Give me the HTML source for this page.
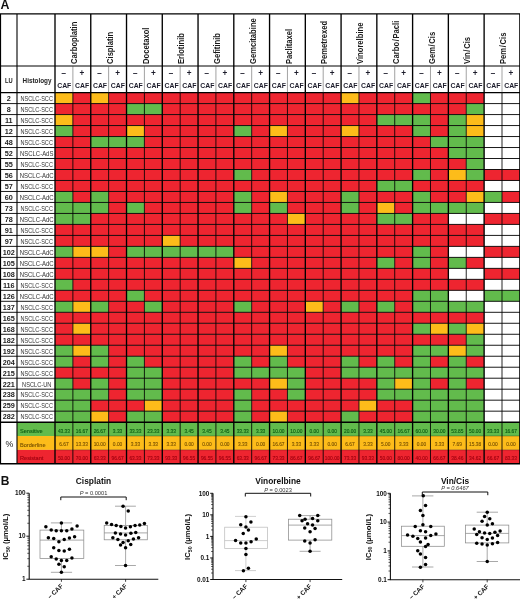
<!DOCTYPE html>
<html lang="en"><head><meta charset="utf-8"><title>Figure</title>
<style>html,body{margin:0;padding:0;background:#fff}body{width:520px;height:599px;overflow:hidden}svg{display:block}</style>
</head><body>
<svg width="520" height="599" viewBox="0 0 520 599" font-family="'Liberation Sans', sans-serif">
<rect width="520" height="599" fill="#fff"/>
<g shape-rendering="auto">
<rect x="55" y="92.6" width="17.88" height="10.98" fill="#fdbc1a"/>
<rect x="72.88" y="92.6" width="17.88" height="10.98" fill="#ee2530"/>
<rect x="90.76" y="92.6" width="17.88" height="10.98" fill="#fdbc1a"/>
<rect x="108.64" y="92.6" width="232.44" height="10.98" fill="#ee2530"/>
<rect x="341.08" y="92.6" width="17.88" height="10.98" fill="#fdbc1a"/>
<rect x="358.96" y="92.6" width="53.64" height="10.98" fill="#ee2530"/>
<rect x="412.6" y="92.6" width="17.88" height="10.98" fill="#62bb4c"/>
<rect x="430.48" y="92.6" width="53.64" height="10.98" fill="#ee2530"/>
<rect x="55" y="103.58" width="71.52" height="10.98" fill="#ee2530"/>
<rect x="126.52" y="103.58" width="35.76" height="10.98" fill="#62bb4c"/>
<rect x="162.28" y="103.58" width="303.96" height="10.98" fill="#ee2530"/>
<rect x="466.24" y="103.58" width="17.88" height="10.98" fill="#62bb4c"/>
<rect x="55" y="114.57" width="17.88" height="10.98" fill="#fdbc1a"/>
<rect x="72.88" y="114.57" width="303.96" height="10.98" fill="#ee2530"/>
<rect x="376.84" y="114.57" width="53.64" height="10.98" fill="#62bb4c"/>
<rect x="430.48" y="114.57" width="17.88" height="10.98" fill="#ee2530"/>
<rect x="448.36" y="114.57" width="17.88" height="10.98" fill="#62bb4c"/>
<rect x="466.24" y="114.57" width="17.88" height="10.98" fill="#fdbc1a"/>
<rect x="55" y="125.55" width="17.88" height="10.98" fill="#62bb4c"/>
<rect x="72.88" y="125.55" width="53.64" height="10.98" fill="#ee2530"/>
<rect x="126.52" y="125.55" width="17.88" height="10.98" fill="#fdbc1a"/>
<rect x="144.4" y="125.55" width="89.4" height="10.98" fill="#ee2530"/>
<rect x="233.8" y="125.55" width="17.88" height="10.98" fill="#62bb4c"/>
<rect x="251.68" y="125.55" width="17.88" height="10.98" fill="#ee2530"/>
<rect x="269.56" y="125.55" width="17.88" height="10.98" fill="#fdbc1a"/>
<rect x="287.44" y="125.55" width="53.64" height="10.98" fill="#ee2530"/>
<rect x="341.08" y="125.55" width="17.88" height="10.98" fill="#fdbc1a"/>
<rect x="358.96" y="125.55" width="53.64" height="10.98" fill="#ee2530"/>
<rect x="412.6" y="125.55" width="17.88" height="10.98" fill="#62bb4c"/>
<rect x="430.48" y="125.55" width="17.88" height="10.98" fill="#ee2530"/>
<rect x="448.36" y="125.55" width="17.88" height="10.98" fill="#62bb4c"/>
<rect x="466.24" y="125.55" width="17.88" height="10.98" fill="#fdbc1a"/>
<rect x="55" y="136.54" width="35.76" height="10.98" fill="#ee2530"/>
<rect x="90.76" y="136.54" width="53.64" height="10.98" fill="#62bb4c"/>
<rect x="144.4" y="136.54" width="286.08" height="10.98" fill="#ee2530"/>
<rect x="430.48" y="136.54" width="53.64" height="10.98" fill="#62bb4c"/>
<rect x="55" y="147.52" width="393.36" height="10.98" fill="#ee2530"/>
<rect x="448.36" y="147.52" width="35.76" height="10.98" fill="#62bb4c"/>
<rect x="55" y="158.51" width="411.24" height="10.98" fill="#ee2530"/>
<rect x="466.24" y="158.51" width="17.88" height="10.98" fill="#62bb4c"/>
<rect x="55" y="169.5" width="178.8" height="10.98" fill="#ee2530"/>
<rect x="233.8" y="169.5" width="17.88" height="10.98" fill="#62bb4c"/>
<rect x="251.68" y="169.5" width="160.92" height="10.98" fill="#ee2530"/>
<rect x="412.6" y="169.5" width="17.88" height="10.98" fill="#62bb4c"/>
<rect x="430.48" y="169.5" width="17.88" height="10.98" fill="#ee2530"/>
<rect x="448.36" y="169.5" width="17.88" height="10.98" fill="#fdbc1a"/>
<rect x="466.24" y="169.5" width="17.88" height="10.98" fill="#62bb4c"/>
<rect x="484.12" y="169.5" width="35.76" height="10.98" fill="#ee2530"/>
<rect x="55" y="180.48" width="321.84" height="10.98" fill="#ee2530"/>
<rect x="376.84" y="180.48" width="35.76" height="10.98" fill="#62bb4c"/>
<rect x="412.6" y="180.48" width="71.52" height="10.98" fill="#ee2530"/>
<rect x="55" y="191.46" width="17.88" height="10.98" fill="#62bb4c"/>
<rect x="72.88" y="191.46" width="17.88" height="10.98" fill="#ee2530"/>
<rect x="90.76" y="191.46" width="17.88" height="10.98" fill="#62bb4c"/>
<rect x="108.64" y="191.46" width="125.16" height="10.98" fill="#ee2530"/>
<rect x="233.8" y="191.46" width="17.88" height="10.98" fill="#62bb4c"/>
<rect x="251.68" y="191.46" width="17.88" height="10.98" fill="#ee2530"/>
<rect x="269.56" y="191.46" width="17.88" height="10.98" fill="#fdbc1a"/>
<rect x="287.44" y="191.46" width="53.64" height="10.98" fill="#ee2530"/>
<rect x="341.08" y="191.46" width="17.88" height="10.98" fill="#62bb4c"/>
<rect x="358.96" y="191.46" width="53.64" height="10.98" fill="#ee2530"/>
<rect x="412.6" y="191.46" width="17.88" height="10.98" fill="#62bb4c"/>
<rect x="430.48" y="191.46" width="35.76" height="10.98" fill="#ee2530"/>
<rect x="466.24" y="191.46" width="17.88" height="10.98" fill="#fdbc1a"/>
<rect x="484.12" y="191.46" width="17.88" height="10.98" fill="#62bb4c"/>
<rect x="502" y="191.46" width="17.88" height="10.98" fill="#ee2530"/>
<rect x="55" y="202.45" width="53.64" height="10.98" fill="#62bb4c"/>
<rect x="108.64" y="202.45" width="17.88" height="10.98" fill="#ee2530"/>
<rect x="126.52" y="202.45" width="17.88" height="10.98" fill="#62bb4c"/>
<rect x="144.4" y="202.45" width="89.4" height="10.98" fill="#ee2530"/>
<rect x="233.8" y="202.45" width="17.88" height="10.98" fill="#62bb4c"/>
<rect x="251.68" y="202.45" width="17.88" height="10.98" fill="#ee2530"/>
<rect x="269.56" y="202.45" width="17.88" height="10.98" fill="#62bb4c"/>
<rect x="287.44" y="202.45" width="53.64" height="10.98" fill="#ee2530"/>
<rect x="341.08" y="202.45" width="17.88" height="10.98" fill="#62bb4c"/>
<rect x="358.96" y="202.45" width="17.88" height="10.98" fill="#ee2530"/>
<rect x="376.84" y="202.45" width="17.88" height="10.98" fill="#fdbc1a"/>
<rect x="394.72" y="202.45" width="17.88" height="10.98" fill="#ee2530"/>
<rect x="412.6" y="202.45" width="71.52" height="10.98" fill="#62bb4c"/>
<rect x="55" y="213.44" width="35.76" height="10.98" fill="#62bb4c"/>
<rect x="90.76" y="213.44" width="196.68" height="10.98" fill="#ee2530"/>
<rect x="287.44" y="213.44" width="17.88" height="10.98" fill="#fdbc1a"/>
<rect x="305.32" y="213.44" width="71.52" height="10.98" fill="#ee2530"/>
<rect x="376.84" y="213.44" width="35.76" height="10.98" fill="#62bb4c"/>
<rect x="412.6" y="213.44" width="35.76" height="10.98" fill="#ee2530"/>
<rect x="484.12" y="213.44" width="35.76" height="10.98" fill="#ee2530"/>
<rect x="55" y="224.42" width="429.12" height="10.98" fill="#ee2530"/>
<rect x="55" y="235.41" width="107.28" height="10.98" fill="#ee2530"/>
<rect x="162.28" y="235.41" width="17.88" height="10.98" fill="#fdbc1a"/>
<rect x="180.16" y="235.41" width="303.96" height="10.98" fill="#ee2530"/>
<rect x="55" y="246.39" width="17.88" height="10.98" fill="#62bb4c"/>
<rect x="72.88" y="246.39" width="35.76" height="10.98" fill="#fdbc1a"/>
<rect x="108.64" y="246.39" width="17.88" height="10.98" fill="#ee2530"/>
<rect x="126.52" y="246.39" width="107.28" height="10.98" fill="#62bb4c"/>
<rect x="233.8" y="246.39" width="178.8" height="10.98" fill="#ee2530"/>
<rect x="412.6" y="246.39" width="17.88" height="10.98" fill="#62bb4c"/>
<rect x="430.48" y="246.39" width="17.88" height="10.98" fill="#ee2530"/>
<rect x="484.12" y="246.39" width="35.76" height="10.98" fill="#ee2530"/>
<rect x="55" y="257.38" width="178.8" height="10.98" fill="#ee2530"/>
<rect x="233.8" y="257.38" width="17.88" height="10.98" fill="#fdbc1a"/>
<rect x="251.68" y="257.38" width="125.16" height="10.98" fill="#ee2530"/>
<rect x="376.84" y="257.38" width="17.88" height="10.98" fill="#62bb4c"/>
<rect x="394.72" y="257.38" width="17.88" height="10.98" fill="#ee2530"/>
<rect x="412.6" y="257.38" width="17.88" height="10.98" fill="#62bb4c"/>
<rect x="430.48" y="257.38" width="17.88" height="10.98" fill="#ee2530"/>
<rect x="448.36" y="257.38" width="17.88" height="10.98" fill="#62bb4c"/>
<rect x="466.24" y="257.38" width="17.88" height="10.98" fill="#ee2530"/>
<rect x="55" y="268.36" width="393.36" height="10.98" fill="#ee2530"/>
<rect x="484.12" y="268.36" width="35.76" height="10.98" fill="#ee2530"/>
<rect x="55" y="279.35" width="17.88" height="10.98" fill="#62bb4c"/>
<rect x="72.88" y="279.35" width="411.24" height="10.98" fill="#ee2530"/>
<rect x="55" y="290.33" width="71.52" height="10.98" fill="#ee2530"/>
<rect x="126.52" y="290.33" width="17.88" height="10.98" fill="#62bb4c"/>
<rect x="144.4" y="290.33" width="268.2" height="10.98" fill="#ee2530"/>
<rect x="412.6" y="290.33" width="35.76" height="10.98" fill="#62bb4c"/>
<rect x="484.12" y="290.33" width="35.76" height="10.98" fill="#62bb4c"/>
<rect x="55" y="301.31" width="17.88" height="10.98" fill="#62bb4c"/>
<rect x="72.88" y="301.31" width="17.88" height="10.98" fill="#fdbc1a"/>
<rect x="90.76" y="301.31" width="17.88" height="10.98" fill="#62bb4c"/>
<rect x="108.64" y="301.31" width="35.76" height="10.98" fill="#ee2530"/>
<rect x="144.4" y="301.31" width="17.88" height="10.98" fill="#62bb4c"/>
<rect x="162.28" y="301.31" width="71.52" height="10.98" fill="#ee2530"/>
<rect x="233.8" y="301.31" width="17.88" height="10.98" fill="#62bb4c"/>
<rect x="251.68" y="301.31" width="53.64" height="10.98" fill="#ee2530"/>
<rect x="305.32" y="301.31" width="17.88" height="10.98" fill="#fdbc1a"/>
<rect x="323.2" y="301.31" width="17.88" height="10.98" fill="#ee2530"/>
<rect x="341.08" y="301.31" width="17.88" height="10.98" fill="#62bb4c"/>
<rect x="358.96" y="301.31" width="17.88" height="10.98" fill="#ee2530"/>
<rect x="376.84" y="301.31" width="17.88" height="10.98" fill="#62bb4c"/>
<rect x="394.72" y="301.31" width="17.88" height="10.98" fill="#ee2530"/>
<rect x="412.6" y="301.31" width="71.52" height="10.98" fill="#62bb4c"/>
<rect x="55" y="312.3" width="429.12" height="10.98" fill="#ee2530"/>
<rect x="55" y="323.28" width="17.88" height="10.98" fill="#ee2530"/>
<rect x="72.88" y="323.28" width="17.88" height="10.98" fill="#fdbc1a"/>
<rect x="90.76" y="323.28" width="321.84" height="10.98" fill="#ee2530"/>
<rect x="412.6" y="323.28" width="17.88" height="10.98" fill="#62bb4c"/>
<rect x="430.48" y="323.28" width="17.88" height="10.98" fill="#fdbc1a"/>
<rect x="448.36" y="323.28" width="17.88" height="10.98" fill="#62bb4c"/>
<rect x="466.24" y="323.28" width="17.88" height="10.98" fill="#fdbc1a"/>
<rect x="55" y="334.27" width="411.24" height="10.98" fill="#ee2530"/>
<rect x="466.24" y="334.27" width="17.88" height="10.98" fill="#62bb4c"/>
<rect x="55" y="345.25" width="17.88" height="10.98" fill="#62bb4c"/>
<rect x="72.88" y="345.25" width="17.88" height="10.98" fill="#fdbc1a"/>
<rect x="90.76" y="345.25" width="17.88" height="10.98" fill="#62bb4c"/>
<rect x="108.64" y="345.25" width="160.92" height="10.98" fill="#ee2530"/>
<rect x="269.56" y="345.25" width="17.88" height="10.98" fill="#fdbc1a"/>
<rect x="287.44" y="345.25" width="125.16" height="10.98" fill="#ee2530"/>
<rect x="412.6" y="345.25" width="35.76" height="10.98" fill="#62bb4c"/>
<rect x="448.36" y="345.25" width="17.88" height="10.98" fill="#fdbc1a"/>
<rect x="466.24" y="345.25" width="17.88" height="10.98" fill="#62bb4c"/>
<rect x="55" y="356.24" width="17.88" height="10.98" fill="#62bb4c"/>
<rect x="72.88" y="356.24" width="17.88" height="10.98" fill="#ee2530"/>
<rect x="90.76" y="356.24" width="17.88" height="10.98" fill="#62bb4c"/>
<rect x="108.64" y="356.24" width="17.88" height="10.98" fill="#ee2530"/>
<rect x="126.52" y="356.24" width="17.88" height="10.98" fill="#62bb4c"/>
<rect x="144.4" y="356.24" width="89.4" height="10.98" fill="#ee2530"/>
<rect x="233.8" y="356.24" width="17.88" height="10.98" fill="#62bb4c"/>
<rect x="251.68" y="356.24" width="17.88" height="10.98" fill="#ee2530"/>
<rect x="269.56" y="356.24" width="17.88" height="10.98" fill="#62bb4c"/>
<rect x="287.44" y="356.24" width="53.64" height="10.98" fill="#ee2530"/>
<rect x="341.08" y="356.24" width="17.88" height="10.98" fill="#62bb4c"/>
<rect x="358.96" y="356.24" width="17.88" height="10.98" fill="#ee2530"/>
<rect x="376.84" y="356.24" width="17.88" height="10.98" fill="#62bb4c"/>
<rect x="394.72" y="356.24" width="17.88" height="10.98" fill="#ee2530"/>
<rect x="412.6" y="356.24" width="17.88" height="10.98" fill="#62bb4c"/>
<rect x="430.48" y="356.24" width="17.88" height="10.98" fill="#ee2530"/>
<rect x="448.36" y="356.24" width="17.88" height="10.98" fill="#62bb4c"/>
<rect x="466.24" y="356.24" width="17.88" height="10.98" fill="#ee2530"/>
<rect x="55" y="367.23" width="71.52" height="10.98" fill="#ee2530"/>
<rect x="126.52" y="367.23" width="35.76" height="10.98" fill="#62bb4c"/>
<rect x="162.28" y="367.23" width="71.52" height="10.98" fill="#ee2530"/>
<rect x="233.8" y="367.23" width="71.52" height="10.98" fill="#62bb4c"/>
<rect x="305.32" y="367.23" width="35.76" height="10.98" fill="#ee2530"/>
<rect x="341.08" y="367.23" width="143.04" height="10.98" fill="#62bb4c"/>
<rect x="55" y="378.21" width="17.88" height="10.98" fill="#62bb4c"/>
<rect x="72.88" y="378.21" width="17.88" height="10.98" fill="#ee2530"/>
<rect x="90.76" y="378.21" width="17.88" height="10.98" fill="#62bb4c"/>
<rect x="108.64" y="378.21" width="17.88" height="10.98" fill="#ee2530"/>
<rect x="126.52" y="378.21" width="35.76" height="10.98" fill="#62bb4c"/>
<rect x="162.28" y="378.21" width="107.28" height="10.98" fill="#ee2530"/>
<rect x="269.56" y="378.21" width="17.88" height="10.98" fill="#fdbc1a"/>
<rect x="287.44" y="378.21" width="17.88" height="10.98" fill="#62bb4c"/>
<rect x="305.32" y="378.21" width="71.52" height="10.98" fill="#ee2530"/>
<rect x="376.84" y="378.21" width="17.88" height="10.98" fill="#62bb4c"/>
<rect x="394.72" y="378.21" width="17.88" height="10.98" fill="#fdbc1a"/>
<rect x="412.6" y="378.21" width="17.88" height="10.98" fill="#62bb4c"/>
<rect x="430.48" y="378.21" width="17.88" height="10.98" fill="#ee2530"/>
<rect x="448.36" y="378.21" width="17.88" height="10.98" fill="#62bb4c"/>
<rect x="466.24" y="378.21" width="17.88" height="10.98" fill="#ee2530"/>
<rect x="55" y="389.19" width="53.64" height="10.98" fill="#62bb4c"/>
<rect x="108.64" y="389.19" width="17.88" height="10.98" fill="#ee2530"/>
<rect x="126.52" y="389.19" width="35.76" height="10.98" fill="#62bb4c"/>
<rect x="162.28" y="389.19" width="71.52" height="10.98" fill="#ee2530"/>
<rect x="233.8" y="389.19" width="17.88" height="10.98" fill="#62bb4c"/>
<rect x="251.68" y="389.19" width="35.76" height="10.98" fill="#ee2530"/>
<rect x="287.44" y="389.19" width="17.88" height="10.98" fill="#62bb4c"/>
<rect x="305.32" y="389.19" width="71.52" height="10.98" fill="#ee2530"/>
<rect x="376.84" y="389.19" width="107.28" height="10.98" fill="#62bb4c"/>
<rect x="55" y="400.18" width="35.76" height="10.98" fill="#62bb4c"/>
<rect x="90.76" y="400.18" width="53.64" height="10.98" fill="#ee2530"/>
<rect x="144.4" y="400.18" width="17.88" height="10.98" fill="#fdbc1a"/>
<rect x="162.28" y="400.18" width="71.52" height="10.98" fill="#ee2530"/>
<rect x="233.8" y="400.18" width="17.88" height="10.98" fill="#62bb4c"/>
<rect x="251.68" y="400.18" width="107.28" height="10.98" fill="#ee2530"/>
<rect x="358.96" y="400.18" width="17.88" height="10.98" fill="#fdbc1a"/>
<rect x="376.84" y="400.18" width="35.76" height="10.98" fill="#ee2530"/>
<rect x="412.6" y="400.18" width="71.52" height="10.98" fill="#62bb4c"/>
<rect x="55" y="411.16" width="35.76" height="10.98" fill="#62bb4c"/>
<rect x="90.76" y="411.16" width="17.88" height="10.98" fill="#fdbc1a"/>
<rect x="108.64" y="411.16" width="17.88" height="10.98" fill="#ee2530"/>
<rect x="126.52" y="411.16" width="35.76" height="10.98" fill="#62bb4c"/>
<rect x="162.28" y="411.16" width="71.52" height="10.98" fill="#ee2530"/>
<rect x="233.8" y="411.16" width="17.88" height="10.98" fill="#62bb4c"/>
<rect x="251.68" y="411.16" width="17.88" height="10.98" fill="#ee2530"/>
<rect x="269.56" y="411.16" width="17.88" height="10.98" fill="#fdbc1a"/>
<rect x="287.44" y="411.16" width="53.64" height="10.98" fill="#ee2530"/>
<rect x="341.08" y="411.16" width="17.88" height="10.98" fill="#62bb4c"/>
<rect x="358.96" y="411.16" width="53.64" height="10.98" fill="#ee2530"/>
<rect x="412.6" y="411.16" width="71.52" height="10.98" fill="#62bb4c"/>
<rect x="17" y="422.15" width="502.88" height="13.87" fill="#62bb4c"/>
<rect x="17" y="436.02" width="502.88" height="13.87" fill="#fdbc1a"/>
<rect x="17" y="449.89" width="502.88" height="13.87" fill="#ee2530"/>
</g>
<g><line x1="0" y1="92.6" x2="520" y2="92.6" stroke="#000" stroke-width="1.1"/><line x1="0" y1="103.58" x2="520" y2="103.58" stroke="#000" stroke-width="0.9"/><line x1="0" y1="114.57" x2="520" y2="114.57" stroke="#000" stroke-width="0.9"/><line x1="0" y1="125.55" x2="520" y2="125.55" stroke="#000" stroke-width="0.9"/><line x1="0" y1="136.54" x2="520" y2="136.54" stroke="#000" stroke-width="0.9"/><line x1="0" y1="147.52" x2="520" y2="147.52" stroke="#000" stroke-width="0.9"/><line x1="0" y1="158.51" x2="520" y2="158.51" stroke="#000" stroke-width="0.9"/><line x1="0" y1="169.5" x2="520" y2="169.5" stroke="#000" stroke-width="0.9"/><line x1="0" y1="180.48" x2="520" y2="180.48" stroke="#000" stroke-width="0.9"/><line x1="0" y1="191.46" x2="520" y2="191.46" stroke="#000" stroke-width="0.9"/><line x1="0" y1="202.45" x2="520" y2="202.45" stroke="#000" stroke-width="0.9"/><line x1="0" y1="213.44" x2="520" y2="213.44" stroke="#000" stroke-width="0.9"/><line x1="0" y1="224.42" x2="520" y2="224.42" stroke="#000" stroke-width="0.9"/><line x1="0" y1="235.41" x2="520" y2="235.41" stroke="#000" stroke-width="0.9"/><line x1="0" y1="246.39" x2="520" y2="246.39" stroke="#000" stroke-width="0.9"/><line x1="0" y1="257.38" x2="520" y2="257.38" stroke="#000" stroke-width="0.9"/><line x1="0" y1="268.36" x2="520" y2="268.36" stroke="#000" stroke-width="0.9"/><line x1="0" y1="279.35" x2="520" y2="279.35" stroke="#000" stroke-width="0.9"/><line x1="0" y1="290.33" x2="520" y2="290.33" stroke="#000" stroke-width="0.9"/><line x1="0" y1="301.31" x2="520" y2="301.31" stroke="#000" stroke-width="0.9"/><line x1="0" y1="312.3" x2="520" y2="312.3" stroke="#000" stroke-width="0.9"/><line x1="0" y1="323.28" x2="520" y2="323.28" stroke="#000" stroke-width="0.9"/><line x1="0" y1="334.27" x2="520" y2="334.27" stroke="#000" stroke-width="0.9"/><line x1="0" y1="345.25" x2="520" y2="345.25" stroke="#000" stroke-width="0.9"/><line x1="0" y1="356.24" x2="520" y2="356.24" stroke="#000" stroke-width="0.9"/><line x1="0" y1="367.23" x2="520" y2="367.23" stroke="#000" stroke-width="0.9"/><line x1="0" y1="378.21" x2="520" y2="378.21" stroke="#000" stroke-width="0.9"/><line x1="0" y1="389.19" x2="520" y2="389.19" stroke="#000" stroke-width="0.9"/><line x1="0" y1="400.18" x2="520" y2="400.18" stroke="#000" stroke-width="0.9"/><line x1="0" y1="411.16" x2="520" y2="411.16" stroke="#000" stroke-width="0.9"/><line x1="0" y1="422.15" x2="520" y2="422.15" stroke="#000" stroke-width="1.5"/><line x1="0" y1="13.9" x2="520" y2="13.9" stroke="#000" stroke-width="1.2"/><line x1="0" y1="66" x2="520" y2="66" stroke="#000" stroke-width="1"/><line x1="0" y1="463.76" x2="520" y2="463.76" stroke="#000" stroke-width="1.4"/><line x1="55" y1="436.02" x2="520" y2="436.02" stroke="#000" stroke-width="0.5" stroke-opacity="0.55"/><line x1="55" y1="449.89" x2="520" y2="449.89" stroke="#000" stroke-width="0.5" stroke-opacity="0.55"/><line x1="0.5" y1="13.9" x2="0.5" y2="463.76" stroke="#000" stroke-width="1.2"/><line x1="17" y1="13.9" x2="17" y2="463.76" stroke="#000" stroke-width="1.1"/><line x1="55" y1="13.9" x2="55" y2="463.76" stroke="#000" stroke-width="1.35"/><line x1="72.88" y1="66" x2="72.88" y2="92.6" stroke="#444" stroke-width="0.5"/><line x1="72.88" y1="92.6" x2="72.88" y2="463.76" stroke="#000" stroke-width="0.85"/><line x1="90.76" y1="13.9" x2="90.76" y2="463.76" stroke="#000" stroke-width="1.35"/><line x1="108.64" y1="66" x2="108.64" y2="92.6" stroke="#444" stroke-width="0.5"/><line x1="108.64" y1="92.6" x2="108.64" y2="463.76" stroke="#000" stroke-width="0.85"/><line x1="126.52" y1="13.9" x2="126.52" y2="463.76" stroke="#000" stroke-width="1.35"/><line x1="144.4" y1="66" x2="144.4" y2="92.6" stroke="#444" stroke-width="0.5"/><line x1="144.4" y1="92.6" x2="144.4" y2="463.76" stroke="#000" stroke-width="0.85"/><line x1="162.28" y1="13.9" x2="162.28" y2="463.76" stroke="#000" stroke-width="1.35"/><line x1="180.16" y1="66" x2="180.16" y2="92.6" stroke="#444" stroke-width="0.5"/><line x1="180.16" y1="92.6" x2="180.16" y2="463.76" stroke="#000" stroke-width="0.85"/><line x1="198.04" y1="13.9" x2="198.04" y2="463.76" stroke="#000" stroke-width="1.35"/><line x1="215.92" y1="66" x2="215.92" y2="92.6" stroke="#444" stroke-width="0.5"/><line x1="215.92" y1="92.6" x2="215.92" y2="463.76" stroke="#000" stroke-width="0.85"/><line x1="233.8" y1="13.9" x2="233.8" y2="463.76" stroke="#000" stroke-width="1.35"/><line x1="251.68" y1="66" x2="251.68" y2="92.6" stroke="#444" stroke-width="0.5"/><line x1="251.68" y1="92.6" x2="251.68" y2="463.76" stroke="#000" stroke-width="0.85"/><line x1="269.56" y1="13.9" x2="269.56" y2="463.76" stroke="#000" stroke-width="1.35"/><line x1="287.44" y1="66" x2="287.44" y2="92.6" stroke="#444" stroke-width="0.5"/><line x1="287.44" y1="92.6" x2="287.44" y2="463.76" stroke="#000" stroke-width="0.85"/><line x1="305.32" y1="13.9" x2="305.32" y2="463.76" stroke="#000" stroke-width="1.35"/><line x1="323.2" y1="66" x2="323.2" y2="92.6" stroke="#444" stroke-width="0.5"/><line x1="323.2" y1="92.6" x2="323.2" y2="463.76" stroke="#000" stroke-width="0.85"/><line x1="341.08" y1="13.9" x2="341.08" y2="463.76" stroke="#000" stroke-width="1.35"/><line x1="358.96" y1="66" x2="358.96" y2="92.6" stroke="#444" stroke-width="0.5"/><line x1="358.96" y1="92.6" x2="358.96" y2="463.76" stroke="#000" stroke-width="0.85"/><line x1="376.84" y1="13.9" x2="376.84" y2="463.76" stroke="#000" stroke-width="1.35"/><line x1="394.72" y1="66" x2="394.72" y2="92.6" stroke="#444" stroke-width="0.5"/><line x1="394.72" y1="92.6" x2="394.72" y2="463.76" stroke="#000" stroke-width="0.85"/><line x1="412.6" y1="13.9" x2="412.6" y2="463.76" stroke="#000" stroke-width="1.35"/><line x1="430.48" y1="66" x2="430.48" y2="92.6" stroke="#444" stroke-width="0.5"/><line x1="430.48" y1="92.6" x2="430.48" y2="463.76" stroke="#000" stroke-width="0.85"/><line x1="448.36" y1="13.9" x2="448.36" y2="463.76" stroke="#000" stroke-width="1.35"/><line x1="466.24" y1="66" x2="466.24" y2="92.6" stroke="#444" stroke-width="0.5"/><line x1="466.24" y1="92.6" x2="466.24" y2="463.76" stroke="#000" stroke-width="0.85"/><line x1="484.12" y1="13.9" x2="484.12" y2="463.76" stroke="#000" stroke-width="1.35"/><line x1="502" y1="66" x2="502" y2="92.6" stroke="#444" stroke-width="0.5"/><line x1="502" y1="92.6" x2="502" y2="463.76" stroke="#000" stroke-width="0.85"/><line x1="519.88" y1="13.9" x2="519.88" y2="463.76" stroke="#000" stroke-width="1.35"/></g>
<text x="0.6" y="8.9" font-size="12.4" font-weight="bold" fill="#111">A</text>
<g font-size="8.3" font-weight="bold" fill="#1a1a1a">
<text transform="translate(76.98,64) rotate(-90) scale(0.92,1)">Carboplatin</text>
<text transform="translate(112.74,64) rotate(-90) scale(0.92,1)">Cisplatin</text>
<text transform="translate(148.5,64) rotate(-90) scale(0.92,1)">Docetaxol</text>
<text transform="translate(184.26,64) rotate(-90) scale(0.92,1)">Erlotinib</text>
<text transform="translate(220.02,64) rotate(-90) scale(0.92,1)">Gefitinib</text>
<text transform="translate(255.78,64) rotate(-90) scale(0.92,1)">Gemcitabine</text>
<text transform="translate(291.54,64) rotate(-90) scale(0.92,1)">Paclitaxel</text>
<text transform="translate(327.3,64) rotate(-90) scale(0.92,1)">Pemetrexed</text>
<text transform="translate(363.06,64) rotate(-90) scale(0.92,1)">Vinorelbine</text>
<text transform="translate(398.82,64) rotate(-90) scale(0.92,1)">Carbo / Pacli</text>
<text transform="translate(434.58,64) rotate(-90) scale(0.92,1)">Gem / Cis</text>
<text transform="translate(470.34,64) rotate(-90) scale(0.92,1)">Vin / Cis</text>
<text transform="translate(506.1,64) rotate(-90) scale(0.92,1)">Pem / Cis</text>
</g>
<g font-size="7.5" fill="#1b1b2a" text-anchor="middle">
<text x="63.94" y="76" font-size="8.2" font-weight="bold">−</text>
<text transform="translate(64.24,87.8) scale(0.92,1)" font-weight="bold">CAF</text>
<text x="81.82" y="76" font-size="8.2" font-weight="bold">+</text>
<text transform="translate(82.12,87.8) scale(0.92,1)" font-weight="bold">CAF</text>
<text x="99.7" y="76" font-size="8.2" font-weight="bold">−</text>
<text transform="translate(100,87.8) scale(0.92,1)" font-weight="bold">CAF</text>
<text x="117.58" y="76" font-size="8.2" font-weight="bold">+</text>
<text transform="translate(117.88,87.8) scale(0.92,1)" font-weight="bold">CAF</text>
<text x="135.46" y="76" font-size="8.2" font-weight="bold">−</text>
<text transform="translate(135.76,87.8) scale(0.92,1)" font-weight="bold">CAF</text>
<text x="153.34" y="76" font-size="8.2" font-weight="bold">+</text>
<text transform="translate(153.64,87.8) scale(0.92,1)" font-weight="bold">CAF</text>
<text x="171.22" y="76" font-size="8.2" font-weight="bold">−</text>
<text transform="translate(171.52,87.8) scale(0.92,1)" font-weight="bold">CAF</text>
<text x="189.1" y="76" font-size="8.2" font-weight="bold">+</text>
<text transform="translate(189.4,87.8) scale(0.92,1)" font-weight="bold">CAF</text>
<text x="206.98" y="76" font-size="8.2" font-weight="bold">−</text>
<text transform="translate(207.28,87.8) scale(0.92,1)" font-weight="bold">CAF</text>
<text x="224.86" y="76" font-size="8.2" font-weight="bold">+</text>
<text transform="translate(225.16,87.8) scale(0.92,1)" font-weight="bold">CAF</text>
<text x="242.74" y="76" font-size="8.2" font-weight="bold">−</text>
<text transform="translate(243.04,87.8) scale(0.92,1)" font-weight="bold">CAF</text>
<text x="260.62" y="76" font-size="8.2" font-weight="bold">+</text>
<text transform="translate(260.92,87.8) scale(0.92,1)" font-weight="bold">CAF</text>
<text x="278.5" y="76" font-size="8.2" font-weight="bold">−</text>
<text transform="translate(278.8,87.8) scale(0.92,1)" font-weight="bold">CAF</text>
<text x="296.38" y="76" font-size="8.2" font-weight="bold">+</text>
<text transform="translate(296.68,87.8) scale(0.92,1)" font-weight="bold">CAF</text>
<text x="314.26" y="76" font-size="8.2" font-weight="bold">−</text>
<text transform="translate(314.56,87.8) scale(0.92,1)" font-weight="bold">CAF</text>
<text x="332.14" y="76" font-size="8.2" font-weight="bold">+</text>
<text transform="translate(332.44,87.8) scale(0.92,1)" font-weight="bold">CAF</text>
<text x="350.02" y="76" font-size="8.2" font-weight="bold">−</text>
<text transform="translate(350.32,87.8) scale(0.92,1)" font-weight="bold">CAF</text>
<text x="367.9" y="76" font-size="8.2" font-weight="bold">+</text>
<text transform="translate(368.2,87.8) scale(0.92,1)" font-weight="bold">CAF</text>
<text x="385.78" y="76" font-size="8.2" font-weight="bold">−</text>
<text transform="translate(386.08,87.8) scale(0.92,1)" font-weight="bold">CAF</text>
<text x="403.66" y="76" font-size="8.2" font-weight="bold">+</text>
<text transform="translate(403.96,87.8) scale(0.92,1)" font-weight="bold">CAF</text>
<text x="421.54" y="76" font-size="8.2" font-weight="bold">−</text>
<text transform="translate(421.84,87.8) scale(0.92,1)" font-weight="bold">CAF</text>
<text x="439.42" y="76" font-size="8.2" font-weight="bold">+</text>
<text transform="translate(439.72,87.8) scale(0.92,1)" font-weight="bold">CAF</text>
<text x="457.3" y="76" font-size="8.2" font-weight="bold">−</text>
<text transform="translate(457.6,87.8) scale(0.92,1)" font-weight="bold">CAF</text>
<text x="475.18" y="76" font-size="8.2" font-weight="bold">+</text>
<text transform="translate(475.48,87.8) scale(0.92,1)" font-weight="bold">CAF</text>
<text x="493.06" y="76" font-size="8.2" font-weight="bold">−</text>
<text transform="translate(493.36,87.8) scale(0.92,1)" font-weight="bold">CAF</text>
<text x="510.94" y="76" font-size="8.2" font-weight="bold">+</text>
<text transform="translate(511.24,87.8) scale(0.92,1)" font-weight="bold">CAF</text>
</g>
<g font-size="7.2" font-weight="bold" fill="#222" text-anchor="middle">
<text transform="translate(8.8,82.6) scale(0.8,1)">LU</text>
<text transform="translate(37,82.6) scale(0.88,1)">Histology</text>
</g>
<g font-size="7.3" fill="#333" text-anchor="middle">
<text transform="translate(8.8,100.9) scale(0.97,1)" font-size="7.5" font-weight="bold" fill="#222">2</text>
<text x="36.7" y="100.9" textLength="32.4" lengthAdjust="spacingAndGlyphs">NSCLC-SCC</text>
<text transform="translate(8.8,111.88) scale(0.97,1)" font-size="7.5" font-weight="bold" fill="#222">8</text>
<text x="36.7" y="111.88" textLength="32.4" lengthAdjust="spacingAndGlyphs">NSCLC-SCC</text>
<text transform="translate(8.8,122.87) scale(0.97,1)" font-size="7.5" font-weight="bold" fill="#222">11</text>
<text x="36.7" y="122.87" textLength="32.4" lengthAdjust="spacingAndGlyphs">NSCLC-SCC</text>
<text transform="translate(8.8,133.85) scale(0.97,1)" font-size="7.5" font-weight="bold" fill="#222">12</text>
<text x="36.7" y="133.85" textLength="32.4" lengthAdjust="spacingAndGlyphs">NSCLC-SCC</text>
<text transform="translate(8.8,144.84) scale(0.97,1)" font-size="7.5" font-weight="bold" fill="#222">48</text>
<text x="36.7" y="144.84" textLength="32.4" lengthAdjust="spacingAndGlyphs">NSCLC-SCC</text>
<text transform="translate(8.8,155.82) scale(0.97,1)" font-size="7.5" font-weight="bold" fill="#222">52</text>
<text x="36.7" y="155.82" textLength="33.3" lengthAdjust="spacingAndGlyphs">NSCLC-AdS</text>
<text transform="translate(8.8,166.81) scale(0.97,1)" font-size="7.5" font-weight="bold" fill="#222">55</text>
<text x="36.7" y="166.81" textLength="32.4" lengthAdjust="spacingAndGlyphs">NSCLC-SCC</text>
<text transform="translate(8.8,177.8) scale(0.97,1)" font-size="7.5" font-weight="bold" fill="#222">56</text>
<text x="36.7" y="177.8" textLength="34.0" lengthAdjust="spacingAndGlyphs">NSCLC-AdC</text>
<text transform="translate(8.8,188.78) scale(0.97,1)" font-size="7.5" font-weight="bold" fill="#222">57</text>
<text x="36.7" y="188.78" textLength="32.4" lengthAdjust="spacingAndGlyphs">NSCLC-SCC</text>
<text transform="translate(8.8,199.76) scale(0.97,1)" font-size="7.5" font-weight="bold" fill="#222">60</text>
<text x="36.7" y="199.76" textLength="34.0" lengthAdjust="spacingAndGlyphs">NSCLC-AdC</text>
<text transform="translate(8.8,210.75) scale(0.97,1)" font-size="7.5" font-weight="bold" fill="#222">73</text>
<text x="36.7" y="210.75" textLength="32.4" lengthAdjust="spacingAndGlyphs">NSCLC-SCC</text>
<text transform="translate(8.8,221.74) scale(0.97,1)" font-size="7.5" font-weight="bold" fill="#222">78</text>
<text x="36.7" y="221.74" textLength="34.0" lengthAdjust="spacingAndGlyphs">NSCLC-AdC</text>
<text transform="translate(8.8,232.72) scale(0.97,1)" font-size="7.5" font-weight="bold" fill="#222">91</text>
<text x="36.7" y="232.72" textLength="32.4" lengthAdjust="spacingAndGlyphs">NSCLC-SCC</text>
<text transform="translate(8.8,243.71) scale(0.97,1)" font-size="7.5" font-weight="bold" fill="#222">97</text>
<text x="36.7" y="243.71" textLength="32.4" lengthAdjust="spacingAndGlyphs">NSCLC-SCC</text>
<text transform="translate(8.8,254.69) scale(0.97,1)" font-size="7.5" font-weight="bold" fill="#222">102</text>
<text x="36.7" y="254.69" textLength="34.0" lengthAdjust="spacingAndGlyphs">NSCLC-AdC</text>
<text transform="translate(8.8,265.68) scale(0.97,1)" font-size="7.5" font-weight="bold" fill="#222">105</text>
<text x="36.7" y="265.68" textLength="34.0" lengthAdjust="spacingAndGlyphs">NSCLC-AdC</text>
<text transform="translate(8.8,276.66) scale(0.97,1)" font-size="7.5" font-weight="bold" fill="#222">108</text>
<text x="36.7" y="276.66" textLength="34.0" lengthAdjust="spacingAndGlyphs">NSCLC-AdC</text>
<text transform="translate(8.8,287.65) scale(0.97,1)" font-size="7.5" font-weight="bold" fill="#222">116</text>
<text x="36.7" y="287.65" textLength="32.4" lengthAdjust="spacingAndGlyphs">NSCLC-SCC</text>
<text transform="translate(8.8,298.63) scale(0.97,1)" font-size="7.5" font-weight="bold" fill="#222">126</text>
<text x="36.7" y="298.63" textLength="34.0" lengthAdjust="spacingAndGlyphs">NSCLC-AdC</text>
<text transform="translate(8.8,309.61) scale(0.97,1)" font-size="7.5" font-weight="bold" fill="#222">137</text>
<text x="36.7" y="309.61" textLength="32.4" lengthAdjust="spacingAndGlyphs">NSCLC-SCC</text>
<text transform="translate(8.8,320.6) scale(0.97,1)" font-size="7.5" font-weight="bold" fill="#222">165</text>
<text x="36.7" y="320.6" textLength="32.4" lengthAdjust="spacingAndGlyphs">NSCLC-SCC</text>
<text transform="translate(8.8,331.58) scale(0.97,1)" font-size="7.5" font-weight="bold" fill="#222">168</text>
<text x="36.7" y="331.58" textLength="32.4" lengthAdjust="spacingAndGlyphs">NSCLC-SCC</text>
<text transform="translate(8.8,342.57) scale(0.97,1)" font-size="7.5" font-weight="bold" fill="#222">182</text>
<text x="36.7" y="342.57" textLength="32.4" lengthAdjust="spacingAndGlyphs">NSCLC-SCC</text>
<text transform="translate(8.8,353.56) scale(0.97,1)" font-size="7.5" font-weight="bold" fill="#222">192</text>
<text x="36.7" y="353.56" textLength="32.4" lengthAdjust="spacingAndGlyphs">NSCLC-SCC</text>
<text transform="translate(8.8,364.54) scale(0.97,1)" font-size="7.5" font-weight="bold" fill="#222">204</text>
<text x="36.7" y="364.54" textLength="32.4" lengthAdjust="spacingAndGlyphs">NSCLC-SCC</text>
<text transform="translate(8.8,375.53) scale(0.97,1)" font-size="7.5" font-weight="bold" fill="#222">215</text>
<text x="36.7" y="375.53" textLength="32.4" lengthAdjust="spacingAndGlyphs">NSCLC-SCC</text>
<text transform="translate(8.8,386.51) scale(0.97,1)" font-size="7.5" font-weight="bold" fill="#222">221</text>
<text x="36.7" y="386.51" textLength="29.2" lengthAdjust="spacingAndGlyphs">NSCLC-UN</text>
<text transform="translate(8.8,397.49) scale(0.97,1)" font-size="7.5" font-weight="bold" fill="#222">238</text>
<text x="36.7" y="397.49" textLength="32.4" lengthAdjust="spacingAndGlyphs">NSCLC-SCC</text>
<text transform="translate(8.8,408.48) scale(0.97,1)" font-size="7.5" font-weight="bold" fill="#222">259</text>
<text x="36.7" y="408.48" textLength="32.4" lengthAdjust="spacingAndGlyphs">NSCLC-SCC</text>
<text transform="translate(8.8,419.46) scale(0.97,1)" font-size="7.5" font-weight="bold" fill="#222">282</text>
<text x="36.7" y="419.46" textLength="32.4" lengthAdjust="spacingAndGlyphs">NSCLC-SCC</text>
</g>
<text x="9.3" y="447.06" font-size="8.8" fill="#222" text-anchor="middle">%</text>
<g fill="#0b5a12" stroke="#0b5a12" stroke-width="0.12" font-size="4.85">
<text x="20" y="432.75" font-size="5.6">Sensitive</text>
<text x="63.94" y="432.55" text-anchor="middle">43.33</text>
<text x="81.82" y="432.55" text-anchor="middle">16.67</text>
<text x="99.7" y="432.55" text-anchor="middle">26.67</text>
<text x="117.58" y="432.55" text-anchor="middle">3.33</text>
<text x="135.46" y="432.55" text-anchor="middle">33.33</text>
<text x="153.34" y="432.55" text-anchor="middle">23.33</text>
<text x="171.22" y="432.55" text-anchor="middle">3.33</text>
<text x="189.1" y="432.55" text-anchor="middle">3.45</text>
<text x="206.98" y="432.55" text-anchor="middle">3.45</text>
<text x="224.86" y="432.55" text-anchor="middle">3.45</text>
<text x="242.74" y="432.55" text-anchor="middle">33.33</text>
<text x="260.62" y="432.55" text-anchor="middle">3.33</text>
<text x="278.5" y="432.55" text-anchor="middle">10.00</text>
<text x="296.38" y="432.55" text-anchor="middle">10.00</text>
<text x="314.26" y="432.55" text-anchor="middle">0.00</text>
<text x="332.14" y="432.55" text-anchor="middle">0.00</text>
<text x="350.02" y="432.55" text-anchor="middle">20.00</text>
<text x="367.9" y="432.55" text-anchor="middle">3.33</text>
<text x="385.78" y="432.55" text-anchor="middle">45.00</text>
<text x="403.66" y="432.55" text-anchor="middle">16.67</text>
<text x="421.54" y="432.55" text-anchor="middle">60.00</text>
<text x="439.42" y="432.55" text-anchor="middle">30.00</text>
<text x="457.3" y="432.55" text-anchor="middle">53.85</text>
<text x="475.18" y="432.55" text-anchor="middle">50.00</text>
<text x="493.06" y="432.55" text-anchor="middle">33.33</text>
<text x="510.94" y="432.55" text-anchor="middle">16.67</text>
</g>
<g fill="#7a5200" stroke="#7a5200" stroke-width="0.12" font-size="4.85">
<text x="20" y="446.62" font-size="5.6">Borderline</text>
<text x="63.94" y="446.42" text-anchor="middle">6.67</text>
<text x="81.82" y="446.42" text-anchor="middle">13.33</text>
<text x="99.7" y="446.42" text-anchor="middle">10.00</text>
<text x="117.58" y="446.42" text-anchor="middle">0.00</text>
<text x="135.46" y="446.42" text-anchor="middle">3.33</text>
<text x="153.34" y="446.42" text-anchor="middle">3.33</text>
<text x="171.22" y="446.42" text-anchor="middle">3.33</text>
<text x="189.1" y="446.42" text-anchor="middle">0.00</text>
<text x="206.98" y="446.42" text-anchor="middle">0.00</text>
<text x="224.86" y="446.42" text-anchor="middle">0.00</text>
<text x="242.74" y="446.42" text-anchor="middle">3.33</text>
<text x="260.62" y="446.42" text-anchor="middle">0.00</text>
<text x="278.5" y="446.42" text-anchor="middle">16.67</text>
<text x="296.38" y="446.42" text-anchor="middle">3.33</text>
<text x="314.26" y="446.42" text-anchor="middle">3.33</text>
<text x="332.14" y="446.42" text-anchor="middle">0.00</text>
<text x="350.02" y="446.42" text-anchor="middle">6.67</text>
<text x="367.9" y="446.42" text-anchor="middle">3.33</text>
<text x="385.78" y="446.42" text-anchor="middle">5.00</text>
<text x="403.66" y="446.42" text-anchor="middle">3.33</text>
<text x="421.54" y="446.42" text-anchor="middle">0.00</text>
<text x="439.42" y="446.42" text-anchor="middle">3.33</text>
<text x="457.3" y="446.42" text-anchor="middle">7.69</text>
<text x="475.18" y="446.42" text-anchor="middle">15.38</text>
<text x="493.06" y="446.42" text-anchor="middle">0.00</text>
<text x="510.94" y="446.42" text-anchor="middle">0.00</text>
</g>
<g fill="#a00010" stroke="#a00010" stroke-width="0.12" font-size="4.85">
<text x="20" y="460.49" font-size="5.6">Resistant</text>
<text x="63.94" y="460.29" text-anchor="middle">50.00</text>
<text x="81.82" y="460.29" text-anchor="middle">70.00</text>
<text x="99.7" y="460.29" text-anchor="middle">63.33</text>
<text x="117.58" y="460.29" text-anchor="middle">96.67</text>
<text x="135.46" y="460.29" text-anchor="middle">63.33</text>
<text x="153.34" y="460.29" text-anchor="middle">73.33</text>
<text x="171.22" y="460.29" text-anchor="middle">93.33</text>
<text x="189.1" y="460.29" text-anchor="middle">96.55</text>
<text x="206.98" y="460.29" text-anchor="middle">96.55</text>
<text x="224.86" y="460.29" text-anchor="middle">96.55</text>
<text x="242.74" y="460.29" text-anchor="middle">63.33</text>
<text x="260.62" y="460.29" text-anchor="middle">96.67</text>
<text x="278.5" y="460.29" text-anchor="middle">73.33</text>
<text x="296.38" y="460.29" text-anchor="middle">86.67</text>
<text x="314.26" y="460.29" text-anchor="middle">96.67</text>
<text x="332.14" y="460.29" text-anchor="middle">100.00</text>
<text x="350.02" y="460.29" text-anchor="middle">73.33</text>
<text x="367.9" y="460.29" text-anchor="middle">93.33</text>
<text x="385.78" y="460.29" text-anchor="middle">50.00</text>
<text x="403.66" y="460.29" text-anchor="middle">80.00</text>
<text x="421.54" y="460.29" text-anchor="middle">40.00</text>
<text x="439.42" y="460.29" text-anchor="middle">66.67</text>
<text x="457.3" y="460.29" text-anchor="middle">38.46</text>
<text x="475.18" y="460.29" text-anchor="middle">34.62</text>
<text x="493.06" y="460.29" text-anchor="middle">66.67</text>
<text x="510.94" y="460.29" text-anchor="middle">83.33</text>
</g>
<text x="0.8" y="485.2" font-size="12" font-weight="bold" fill="#111">B</text>
<g><text x="93.5" y="484.2" font-size="8.4" font-weight="bold" fill="#111" text-anchor="middle">Cisplatin</text><path d="M29.2 493.2V579.2H158.3" fill="none" stroke="#111" stroke-width="1.1"/><line x1="26.4" y1="493.2" x2="29.2" y2="493.2" stroke="#111" stroke-width="1"/><text x="25.6" y="495.4" font-size="6.4" font-weight="bold" fill="#111" text-anchor="end">100</text><line x1="26.4" y1="536.2" x2="29.2" y2="536.2" stroke="#111" stroke-width="1"/><text x="25.6" y="538.4" font-size="6.4" font-weight="bold" fill="#111" text-anchor="end">10</text><line x1="26.4" y1="579.2" x2="29.2" y2="579.2" stroke="#111" stroke-width="1"/><text x="25.6" y="581.4" font-size="6.4" font-weight="bold" fill="#111" text-anchor="end">1</text><line x1="27.3" y1="523.26" x2="29.2" y2="523.26" stroke="#111" stroke-width="0.7"/><line x1="27.3" y1="515.68" x2="29.2" y2="515.68" stroke="#111" stroke-width="0.7"/><line x1="27.3" y1="510.31" x2="29.2" y2="510.31" stroke="#111" stroke-width="0.7"/><line x1="27.3" y1="506.14" x2="29.2" y2="506.14" stroke="#111" stroke-width="0.7"/><line x1="27.3" y1="502.74" x2="29.2" y2="502.74" stroke="#111" stroke-width="0.7"/><line x1="27.3" y1="499.86" x2="29.2" y2="499.86" stroke="#111" stroke-width="0.7"/><line x1="27.3" y1="497.37" x2="29.2" y2="497.37" stroke="#111" stroke-width="0.7"/><line x1="27.3" y1="495.17" x2="29.2" y2="495.17" stroke="#111" stroke-width="0.7"/><line x1="27.3" y1="566.26" x2="29.2" y2="566.26" stroke="#111" stroke-width="0.7"/><line x1="27.3" y1="558.68" x2="29.2" y2="558.68" stroke="#111" stroke-width="0.7"/><line x1="27.3" y1="553.31" x2="29.2" y2="553.31" stroke="#111" stroke-width="0.7"/><line x1="27.3" y1="549.14" x2="29.2" y2="549.14" stroke="#111" stroke-width="0.7"/><line x1="27.3" y1="545.74" x2="29.2" y2="545.74" stroke="#111" stroke-width="0.7"/><line x1="27.3" y1="542.86" x2="29.2" y2="542.86" stroke="#111" stroke-width="0.7"/><line x1="27.3" y1="540.37" x2="29.2" y2="540.37" stroke="#111" stroke-width="0.7"/><line x1="27.3" y1="538.17" x2="29.2" y2="538.17" stroke="#111" stroke-width="0.7"/><text transform="translate(8.1,536.7) rotate(-90)" font-size="7.8" font-weight="bold" fill="#111" text-anchor="middle">IC<tspan font-size="5.2" dy="1.6">50</tspan><tspan dy="-1.6"> (µmol/L)</tspan></text><g stroke="#8c8c8c" stroke-width="0.75" fill="none"><rect x="40" y="530.1" width="43.8" height="28.4"/><path d="M40 540.1H83.8 M61.4 522.9V530.1 M61.4 558.5V572.3 M50.9 522.9H72.1 M50.9 572.3H72.1"/></g><line x1="61.4" y1="579.2" x2="61.4" y2="581.8" stroke="#111" stroke-width="0.8"/><g stroke="#8c8c8c" stroke-width="0.75" fill="none"><rect x="104.2" y="525.6" width="43.1" height="14.2"/><path d="M104.2 532.9H147.3 M125.6 506.2V525.6 M125.6 539.8V565.5 M115 506.2H135.9 M115 565.5H135.9"/></g><line x1="125.6" y1="579.2" x2="125.6" y2="581.8" stroke="#111" stroke-width="0.8"/><g fill="#000"><circle cx="61.4" cy="522.9" r="1.75"/><circle cx="45.88" cy="526.74" r="1.75"/><circle cx="77.1" cy="525.9" r="1.75"/><circle cx="51.22" cy="530.08" r="1.75"/><circle cx="56.23" cy="530.74" r="1.75"/><circle cx="61.4" cy="530.74" r="1.75"/><circle cx="66.74" cy="530.74" r="1.75"/><circle cx="71.92" cy="529.07" r="1.75"/><circle cx="48.38" cy="537.75" r="1.75"/><circle cx="53.72" cy="538.42" r="1.75"/><circle cx="64.24" cy="539.42" r="1.75"/><circle cx="69.42" cy="538.09" r="1.75"/><circle cx="74.59" cy="536.75" r="1.75"/><circle cx="58.9" cy="541.76" r="1.75"/><circle cx="53.72" cy="547.77" r="1.75"/><circle cx="58.9" cy="550.44" r="1.75"/><circle cx="64.24" cy="551.11" r="1.75"/><circle cx="69.42" cy="549.27" r="1.75"/><circle cx="51.22" cy="556.79" r="1.75"/><circle cx="56.23" cy="559.12" r="1.75"/><circle cx="61.4" cy="560.46" r="1.75"/><circle cx="66.74" cy="560.46" r="1.75"/><circle cx="71.92" cy="558.12" r="1.75"/><circle cx="58.9" cy="564.13" r="1.75"/><circle cx="64.24" cy="566.8" r="1.75"/><circle cx="61.4" cy="572.31" r="1.75"/><circle cx="123.06" cy="506.2" r="1.75"/><circle cx="128.23" cy="510.88" r="1.75"/><circle cx="106.69" cy="522.9" r="1.75"/><circle cx="111.54" cy="524.4" r="1.75"/><circle cx="116.21" cy="525.4" r="1.75"/><circle cx="120.88" cy="526.4" r="1.75"/><circle cx="125.56" cy="527.9" r="1.75"/><circle cx="130.4" cy="526.74" r="1.75"/><circle cx="135.08" cy="525.4" r="1.75"/><circle cx="139.75" cy="525.07" r="1.75"/><circle cx="144.42" cy="523.4" r="1.75"/><circle cx="115.38" cy="532.91" r="1.75"/><circle cx="120.55" cy="533.91" r="1.75"/><circle cx="125.56" cy="534.92" r="1.75"/><circle cx="130.9" cy="533.25" r="1.75"/><circle cx="135.74" cy="532.58" r="1.75"/><circle cx="112.87" cy="537.75" r="1.75"/><circle cx="117.88" cy="539.42" r="1.75"/><circle cx="123.06" cy="542.6" r="1.75"/><circle cx="128.23" cy="540.76" r="1.75"/><circle cx="133.41" cy="539.09" r="1.75"/><circle cx="138.58" cy="537.75" r="1.75"/><circle cx="120.55" cy="545.1" r="1.75"/><circle cx="125.56" cy="547.77" r="1.75"/><circle cx="130.73" cy="544.43" r="1.75"/><circle cx="125.56" cy="565.47" r="1.75"/></g><path d="M60.8 500.2V497H126.2V500.2" fill="none" stroke="#111" stroke-width="1"/><text x="93.5" y="495.4" font-size="5.7" fill="#333" text-anchor="middle"><tspan font-style="italic">P</tspan> = 0.0001</text><text transform="translate(63.4,586.4) rotate(-45)" font-size="6.4" font-weight="bold" fill="#111" text-anchor="end">− CAF</text><text transform="translate(127.6,586.4) rotate(-45)" font-size="6.4" font-weight="bold" fill="#111" text-anchor="end">+ CAF</text></g>
<g><text x="278" y="484.2" font-size="8.4" font-weight="bold" fill="#111" text-anchor="middle">Vinorelbine</text><path d="M213 493.3V579.5H342.2" fill="none" stroke="#111" stroke-width="1.1"/><line x1="210.2" y1="493.3" x2="213" y2="493.3" stroke="#111" stroke-width="1"/><text x="209.4" y="495.5" font-size="6.4" font-weight="bold" fill="#111" text-anchor="end">100</text><line x1="210.2" y1="514.85" x2="213" y2="514.85" stroke="#111" stroke-width="1"/><text x="209.4" y="517.05" font-size="6.4" font-weight="bold" fill="#111" text-anchor="end">10</text><line x1="210.2" y1="536.4" x2="213" y2="536.4" stroke="#111" stroke-width="1"/><text x="209.4" y="538.6" font-size="6.4" font-weight="bold" fill="#111" text-anchor="end">1</text><line x1="210.2" y1="557.95" x2="213" y2="557.95" stroke="#111" stroke-width="1"/><text x="209.4" y="560.15" font-size="6.4" font-weight="bold" fill="#111" text-anchor="end">0.1</text><line x1="210.2" y1="579.5" x2="213" y2="579.5" stroke="#111" stroke-width="1"/><text x="209.4" y="581.7" font-size="6.4" font-weight="bold" fill="#111" text-anchor="end">0.01</text><line x1="211.1" y1="508.36" x2="213" y2="508.36" stroke="#111" stroke-width="0.7"/><line x1="211.1" y1="504.57" x2="213" y2="504.57" stroke="#111" stroke-width="0.7"/><line x1="211.1" y1="501.88" x2="213" y2="501.88" stroke="#111" stroke-width="0.7"/><line x1="211.1" y1="499.79" x2="213" y2="499.79" stroke="#111" stroke-width="0.7"/><line x1="211.1" y1="498.08" x2="213" y2="498.08" stroke="#111" stroke-width="0.7"/><line x1="211.1" y1="496.64" x2="213" y2="496.64" stroke="#111" stroke-width="0.7"/><line x1="211.1" y1="495.39" x2="213" y2="495.39" stroke="#111" stroke-width="0.7"/><line x1="211.1" y1="494.29" x2="213" y2="494.29" stroke="#111" stroke-width="0.7"/><line x1="211.1" y1="529.91" x2="213" y2="529.91" stroke="#111" stroke-width="0.7"/><line x1="211.1" y1="526.12" x2="213" y2="526.12" stroke="#111" stroke-width="0.7"/><line x1="211.1" y1="523.43" x2="213" y2="523.43" stroke="#111" stroke-width="0.7"/><line x1="211.1" y1="521.34" x2="213" y2="521.34" stroke="#111" stroke-width="0.7"/><line x1="211.1" y1="519.63" x2="213" y2="519.63" stroke="#111" stroke-width="0.7"/><line x1="211.1" y1="518.19" x2="213" y2="518.19" stroke="#111" stroke-width="0.7"/><line x1="211.1" y1="516.94" x2="213" y2="516.94" stroke="#111" stroke-width="0.7"/><line x1="211.1" y1="515.84" x2="213" y2="515.84" stroke="#111" stroke-width="0.7"/><line x1="211.1" y1="551.46" x2="213" y2="551.46" stroke="#111" stroke-width="0.7"/><line x1="211.1" y1="547.67" x2="213" y2="547.67" stroke="#111" stroke-width="0.7"/><line x1="211.1" y1="544.98" x2="213" y2="544.98" stroke="#111" stroke-width="0.7"/><line x1="211.1" y1="542.89" x2="213" y2="542.89" stroke="#111" stroke-width="0.7"/><line x1="211.1" y1="541.18" x2="213" y2="541.18" stroke="#111" stroke-width="0.7"/><line x1="211.1" y1="539.74" x2="213" y2="539.74" stroke="#111" stroke-width="0.7"/><line x1="211.1" y1="538.49" x2="213" y2="538.49" stroke="#111" stroke-width="0.7"/><line x1="211.1" y1="537.39" x2="213" y2="537.39" stroke="#111" stroke-width="0.7"/><line x1="211.1" y1="573.01" x2="213" y2="573.01" stroke="#111" stroke-width="0.7"/><line x1="211.1" y1="569.22" x2="213" y2="569.22" stroke="#111" stroke-width="0.7"/><line x1="211.1" y1="566.53" x2="213" y2="566.53" stroke="#111" stroke-width="0.7"/><line x1="211.1" y1="564.44" x2="213" y2="564.44" stroke="#111" stroke-width="0.7"/><line x1="211.1" y1="562.73" x2="213" y2="562.73" stroke="#111" stroke-width="0.7"/><line x1="211.1" y1="561.29" x2="213" y2="561.29" stroke="#111" stroke-width="0.7"/><line x1="211.1" y1="560.04" x2="213" y2="560.04" stroke="#111" stroke-width="0.7"/><line x1="211.1" y1="558.94" x2="213" y2="558.94" stroke="#111" stroke-width="0.7"/><text transform="translate(190.3,536.9) rotate(-90)" font-size="7.8" font-weight="bold" fill="#111" text-anchor="middle">IC<tspan font-size="5.2" dy="1.6">50</tspan><tspan dy="-1.6"> (µmol/L)</tspan></text><g stroke="#bdbdbd" stroke-width="0.75" fill="none"><rect x="224.7" y="527.2" width="42.9" height="21.2"/><path d="M224.7 540.6H267.6 M245.9 516.4V527.2 M245.9 548.4V570.6 M235 516.4H256 M235 570.6H256"/></g><line x1="245.9" y1="579.5" x2="245.9" y2="582.1" stroke="#111" stroke-width="0.8"/><g stroke="#8c8c8c" stroke-width="0.75" fill="none"><rect x="288.4" y="519.2" width="43.4" height="20.9"/><path d="M288.4 525.1H331.8 M310.1 515.6V519.2 M310.1 540.1V551.3 M299.6 515.6H320.6 M299.6 551.3H320.6"/></g><line x1="310.1" y1="579.5" x2="310.1" y2="582.1" stroke="#111" stroke-width="0.8"/><g fill="#000"><circle cx="245.92" cy="516.72" r="1.75"/><circle cx="250.93" cy="522.06" r="1.75"/><circle cx="240.74" cy="524.73" r="1.75"/><circle cx="245.92" cy="527.07" r="1.75"/><circle cx="248.42" cy="530.08" r="1.75"/><circle cx="243.25" cy="533.41" r="1.75"/><circle cx="235.57" cy="540.59" r="1.75"/><circle cx="256.27" cy="539.09" r="1.75"/><circle cx="240.74" cy="542.93" r="1.75"/><circle cx="245.92" cy="542.93" r="1.75"/><circle cx="251.09" cy="541.76" r="1.75"/><circle cx="245.92" cy="548.61" r="1.75"/><circle cx="245.92" cy="554.45" r="1.75"/><circle cx="248.42" cy="568.14" r="1.75"/><circle cx="243.41" cy="570.81" r="1.75"/><circle cx="299.72" cy="515.55" r="1.75"/><circle cx="317.75" cy="515.55" r="1.75"/><circle cx="312.58" cy="518.39" r="1.75"/><circle cx="305.07" cy="519.22" r="1.75"/><circle cx="302.06" cy="520.73" r="1.75"/><circle cx="317.75" cy="520.73" r="1.75"/><circle cx="307.57" cy="523.73" r="1.75"/><circle cx="312.58" cy="525.07" r="1.75"/><circle cx="304.73" cy="528.07" r="1.75"/><circle cx="315.08" cy="528.41" r="1.75"/><circle cx="310.08" cy="531.74" r="1.75"/><circle cx="304.73" cy="540.93" r="1.75"/><circle cx="315.08" cy="539.76" r="1.75"/><circle cx="310.08" cy="542.93" r="1.75"/><circle cx="310.08" cy="551.28" r="1.75"/></g><path d="M245.3 496.5V493.3H310.7V496.5" fill="none" stroke="#111" stroke-width="1"/><text x="278" y="491.7" font-size="5.7" fill="#333" text-anchor="middle"><tspan font-style="italic">P</tspan> = 0.0023</text><text transform="translate(247.9,586.7) rotate(-45)" font-size="6.4" font-weight="bold" fill="#111" text-anchor="end">− CAF</text><text transform="translate(312.1,586.7) rotate(-45)" font-size="6.4" font-weight="bold" fill="#111" text-anchor="end">+ CAF</text></g>
<g><text x="455" y="484.2" font-size="8.4" font-weight="bold" fill="#111" text-anchor="middle">Vin/Cis</text><path d="M390.4 493.3V579.7H520" fill="none" stroke="#111" stroke-width="1.1"/><line x1="387.6" y1="493.3" x2="390.4" y2="493.3" stroke="#111" stroke-width="1"/><text x="386.8" y="495.5" font-size="6.4" font-weight="bold" fill="#111" text-anchor="end">100</text><line x1="387.6" y1="522.1" x2="390.4" y2="522.1" stroke="#111" stroke-width="1"/><text x="386.8" y="524.3" font-size="6.4" font-weight="bold" fill="#111" text-anchor="end">10</text><line x1="387.6" y1="550.9" x2="390.4" y2="550.9" stroke="#111" stroke-width="1"/><text x="386.8" y="553.1" font-size="6.4" font-weight="bold" fill="#111" text-anchor="end">1</text><line x1="387.6" y1="579.7" x2="390.4" y2="579.7" stroke="#111" stroke-width="1"/><text x="386.8" y="581.9" font-size="6.4" font-weight="bold" fill="#111" text-anchor="end">0.1</text><line x1="388.5" y1="513.43" x2="390.4" y2="513.43" stroke="#111" stroke-width="0.7"/><line x1="388.5" y1="508.36" x2="390.4" y2="508.36" stroke="#111" stroke-width="0.7"/><line x1="388.5" y1="504.76" x2="390.4" y2="504.76" stroke="#111" stroke-width="0.7"/><line x1="388.5" y1="501.97" x2="390.4" y2="501.97" stroke="#111" stroke-width="0.7"/><line x1="388.5" y1="499.69" x2="390.4" y2="499.69" stroke="#111" stroke-width="0.7"/><line x1="388.5" y1="497.76" x2="390.4" y2="497.76" stroke="#111" stroke-width="0.7"/><line x1="388.5" y1="496.09" x2="390.4" y2="496.09" stroke="#111" stroke-width="0.7"/><line x1="388.5" y1="494.62" x2="390.4" y2="494.62" stroke="#111" stroke-width="0.7"/><line x1="388.5" y1="542.23" x2="390.4" y2="542.23" stroke="#111" stroke-width="0.7"/><line x1="388.5" y1="537.16" x2="390.4" y2="537.16" stroke="#111" stroke-width="0.7"/><line x1="388.5" y1="533.56" x2="390.4" y2="533.56" stroke="#111" stroke-width="0.7"/><line x1="388.5" y1="530.77" x2="390.4" y2="530.77" stroke="#111" stroke-width="0.7"/><line x1="388.5" y1="528.49" x2="390.4" y2="528.49" stroke="#111" stroke-width="0.7"/><line x1="388.5" y1="526.56" x2="390.4" y2="526.56" stroke="#111" stroke-width="0.7"/><line x1="388.5" y1="524.89" x2="390.4" y2="524.89" stroke="#111" stroke-width="0.7"/><line x1="388.5" y1="523.42" x2="390.4" y2="523.42" stroke="#111" stroke-width="0.7"/><line x1="388.5" y1="571.03" x2="390.4" y2="571.03" stroke="#111" stroke-width="0.7"/><line x1="388.5" y1="565.96" x2="390.4" y2="565.96" stroke="#111" stroke-width="0.7"/><line x1="388.5" y1="562.36" x2="390.4" y2="562.36" stroke="#111" stroke-width="0.7"/><line x1="388.5" y1="559.57" x2="390.4" y2="559.57" stroke="#111" stroke-width="0.7"/><line x1="388.5" y1="557.29" x2="390.4" y2="557.29" stroke="#111" stroke-width="0.7"/><line x1="388.5" y1="555.36" x2="390.4" y2="555.36" stroke="#111" stroke-width="0.7"/><line x1="388.5" y1="553.69" x2="390.4" y2="553.69" stroke="#111" stroke-width="0.7"/><line x1="388.5" y1="552.22" x2="390.4" y2="552.22" stroke="#111" stroke-width="0.7"/><text transform="translate(370.8,537) rotate(-90)" font-size="7.8" font-weight="bold" fill="#111" text-anchor="middle">IC<tspan font-size="5.2" dy="1.6">50</tspan><tspan dy="-1.6"> (µmol/L)</tspan></text><g stroke="#8c8c8c" stroke-width="0.75" fill="none"><rect x="401.4" y="526.2" width="42.9" height="20.1"/><path d="M401.4 535.6H444.3 M422.9 495.9V526.2 M422.9 546.3V567 M412 495.9H433.4 M412 567H433.4"/></g><line x1="422.9" y1="579.7" x2="422.9" y2="582.3" stroke="#111" stroke-width="0.8"/><g stroke="#8c8c8c" stroke-width="0.75" fill="none"><rect x="465.4" y="525.1" width="43.4" height="17.8"/><path d="M465.4 533.4H508.8 M487.2 512.2V525.1 M487.2 542.9V561.5 M476.7 512.2H498 M476.7 561.5H498"/></g><line x1="487.2" y1="579.7" x2="487.2" y2="582.3" stroke="#111" stroke-width="0.8"/><g fill="#000"><circle cx="423.25" cy="495.85" r="1.75"/><circle cx="425.58" cy="505.53" r="1.75"/><circle cx="420.41" cy="510.38" r="1.75"/><circle cx="422.91" cy="515.55" r="1.75"/><circle cx="422.91" cy="524.73" r="1.75"/><circle cx="415.23" cy="526.4" r="1.75"/><circle cx="430.76" cy="526.4" r="1.75"/><circle cx="420.41" cy="530.74" r="1.75"/><circle cx="425.58" cy="531.74" r="1.75"/><circle cx="407.55" cy="535.08" r="1.75"/><circle cx="412.9" cy="536.25" r="1.75"/><circle cx="430.76" cy="535.42" r="1.75"/><circle cx="435.93" cy="533.91" r="1.75"/><circle cx="417.74" cy="538.42" r="1.75"/><circle cx="425.58" cy="538.09" r="1.75"/><circle cx="420.41" cy="542.1" r="1.75"/><circle cx="428.09" cy="544.43" r="1.75"/><circle cx="425.58" cy="546.6" r="1.75"/><circle cx="417.74" cy="550.78" r="1.75"/><circle cx="420.41" cy="554.12" r="1.75"/><circle cx="425.58" cy="557.62" r="1.75"/><circle cx="425.58" cy="564.47" r="1.75"/><circle cx="420.41" cy="567.14" r="1.75"/><circle cx="487.25" cy="512.21" r="1.75"/><circle cx="484.57" cy="516.39" r="1.75"/><circle cx="489.75" cy="518.72" r="1.75"/><circle cx="482.07" cy="521.23" r="1.75"/><circle cx="492.42" cy="523.73" r="1.75"/><circle cx="487.25" cy="525.07" r="1.75"/><circle cx="474.22" cy="529.07" r="1.75"/><circle cx="479.4" cy="531.74" r="1.75"/><circle cx="500.1" cy="530.91" r="1.75"/><circle cx="484.57" cy="532.91" r="1.75"/><circle cx="489.75" cy="533.41" r="1.75"/><circle cx="494.92" cy="532.25" r="1.75"/><circle cx="476.73" cy="534.58" r="1.75"/><circle cx="497.6" cy="535.42" r="1.75"/><circle cx="482.07" cy="537.75" r="1.75"/><circle cx="492.42" cy="538.09" r="1.75"/><circle cx="487.25" cy="539.59" r="1.75"/><circle cx="476.73" cy="543.26" r="1.75"/><circle cx="482.07" cy="544.1" r="1.75"/><circle cx="487.25" cy="545.1" r="1.75"/><circle cx="492.42" cy="543.76" r="1.75"/><circle cx="497.6" cy="542.6" r="1.75"/><circle cx="487.25" cy="561.46" r="1.75"/></g><path d="M422.3 495.2V492H487.8V495.2" fill="none" stroke="#111" stroke-width="1"/><text x="455.05" y="490.4" font-size="5.7" fill="#333" text-anchor="middle" font-style="italic"><tspan font-style="italic">P</tspan> = 0.6467</text><text transform="translate(424.9,586.9) rotate(-45)" font-size="6.4" font-weight="bold" fill="#111" text-anchor="end">− CAF</text><text transform="translate(489.2,586.9) rotate(-45)" font-size="6.4" font-weight="bold" fill="#111" text-anchor="end">+ CAF</text></g>
</svg>
</body></html>
